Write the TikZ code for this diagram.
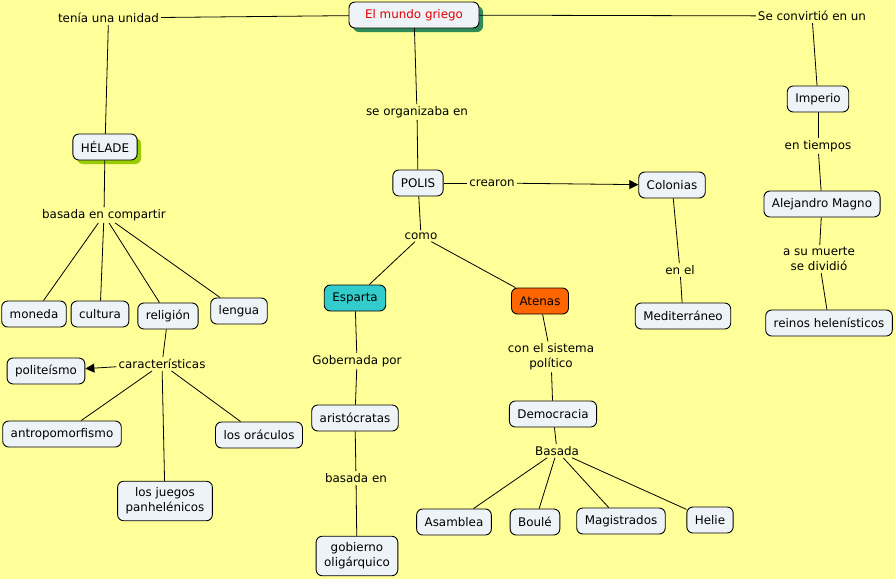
\documentclass[tikz,border=0pt]{standalone}
\usepackage{fontspec}
\setmainfont{DejaVu Sans}
\usetikzlibrary{arrows.meta,shadows}
\definecolor{bg}{HTML}{FFFF99}
\definecolor{cfill}{HTML}{EEF3F8}
\definecolor{titlered}{HTML}{E00000}
\definecolor{shgreen}{HTML}{2E8B57}
\definecolor{shlime}{HTML}{99CC00}
\definecolor{esp}{HTML}{33CCCC}
\definecolor{ate}{HTML}{FF6600}
\begin{document}
\begin{tikzpicture}[x=1pt,y=-1pt,
  txt/.style={font=\fontsize{11.9}{15}\selectfont, align=center},
  concept/.style={txt, draw=black, line width=0.9pt, rounded corners=6pt, fill=cfill,
    inner xsep=8pt, inner ysep=6.5pt, minimum height=26pt},
  link/.style={txt, inner sep=2pt},
  conn/.style={draw=black, line width=0.8pt},
  arr/.style={conn, -{Triangle[length=9pt,width=9pt]}}
]
\fill[bg] (0,0) rectangle (895,579);
\useasboundingbox (0,0) rectangle (895,579);

% concepts
\node[concept, text=titlered, minimum width=130pt, copy shadow={shadow xshift=4pt, shadow yshift=-4pt, fill=shgreen, draw=none}] (title) at (414,15) {El mundo griego};
\node[concept, copy shadow={shadow xshift=4pt, shadow yshift=-4pt, fill=shlime, draw=none}] (helade) at (105,147) {HÉLADE};
\node[concept] (polis) at (418,183) {POLIS};
\node[concept] (colonias) at (672,185) {Colonias};
\node[concept] (imperio) at (818,99) {Imperio};
\node[concept] (alejandro) at (822,204) {Alejandro Magno};
\node[concept] (reinos) at (829,323) {reinos helenísticos};
\node[concept] (medit) at (683,316) {Mediterráneo};
\node[concept, fill=esp] (esparta) at (355,298) {Esparta};
\node[concept, fill=ate] (atenas) at (540,301) {Atenas};
\node[concept] (aristo) at (355,418) {aristócratas};
\node[concept] (gobierno) at (357,556) {gobierno\\oligárquico};
\node[concept] (democ) at (553,414) {Democracia};
\node[concept] (asamblea) at (454,522) {Asamblea};
\node[concept] (boule) at (535,522) {Boulé};
\node[concept] (magis) at (621,521) {Magistrados};
\node[concept] (helie) at (710,520) {Helie};
\node[concept] (moneda) at (34,314) {moneda};
\node[concept] (cultura) at (100,314) {cultura};
\node[concept] (religion) at (168,316) {religión};
\node[concept] (lengua) at (239,311) {lengua};
\node[concept] (politeismo) at (46,371) {politeísmo};
\node[concept] (antropo) at (62,434) {antropomorfismo};
\node[concept] (oraculos) at (259,435) {los oráculos};
\node[concept] (juegos) at (165,501) {los juegos\\panhelénicos};

% linking phrases
\node[link] (tenia) at (108.5,18) {tenía una unidad};
\node[link] (organiza) at (417,112) {se organizaba en};
\node[link] (convirtio) at (812,16) {Se convirtió en un};
\node[link] (compartir) at (104,215) {basada en compartir};
\node[link] (crearon) at (492,183) {crearon};
\node[link] (como) at (421,236) {como};
\node[link] (tiempos) at (818,146) {en tiempos};
\node[link] (muerte) at (819,259) {a su muerte\\se dividió};
\node[link] (enel) at (680,270) {en el};
\node[link] (caract) at (162,364) {características};
\node[link] (gobernada) at (357,361) {Gobernada por};
\node[link] (sistema) at (551,357) {con el sistema\\político};
\node[link] (basadaen) at (356,478) {basada en};
\node[link] (basada) at (557,451) {Basada};

% connectors
\draw[conn] (title) -- (tenia);
\draw[conn] (tenia) -- (helade);
\draw[conn] (title) -- (organiza);
\draw[conn] (organiza) -- (polis);
\draw[conn] (title) -- (convirtio);
\draw[conn] (convirtio) -- (imperio);
\draw[conn] (helade) -- (compartir);
\draw[conn] (compartir) -- (moneda);
\draw[conn] (compartir) -- (cultura);
\draw[conn] (compartir) -- (religion);
\draw[conn] (compartir) -- (lengua);
\draw[conn] (religion) -- (caract);
\draw[arr] (caract) -- (politeismo);
\draw[conn] (caract) -- (antropo);
\draw[conn] (caract) -- (juegos);
\draw[conn] (caract) -- (oraculos);
\draw[conn] (polis) -- (crearon);
\draw[arr] (crearon) -- (colonias);
\draw[conn] (polis) -- (como);
\draw[conn] (como) -- (esparta);
\draw[conn] (como) -- (atenas);
\draw[conn] (colonias) -- (enel);
\draw[conn] (enel) -- (medit);
\draw[conn] (imperio) -- (tiempos);
\draw[conn] (tiempos) -- (alejandro);
\draw[conn] (alejandro) -- (muerte);
\draw[conn] (muerte) -- (reinos);
\draw[conn] (esparta) -- (gobernada);
\draw[conn] (gobernada) -- (aristo);
\draw[conn] (aristo) -- (basadaen);
\draw[conn] (basadaen) -- (gobierno);
\draw[conn] (atenas) -- (sistema);
\draw[conn] (sistema) -- (democ);
\draw[conn] (democ) -- (basada);
\draw[conn] (basada) -- (asamblea);
\draw[conn] (basada) -- (boule);
\draw[conn] (basada) -- (magis);
\draw[conn] (basada) -- (helie);
\end{tikzpicture}
\end{document}
